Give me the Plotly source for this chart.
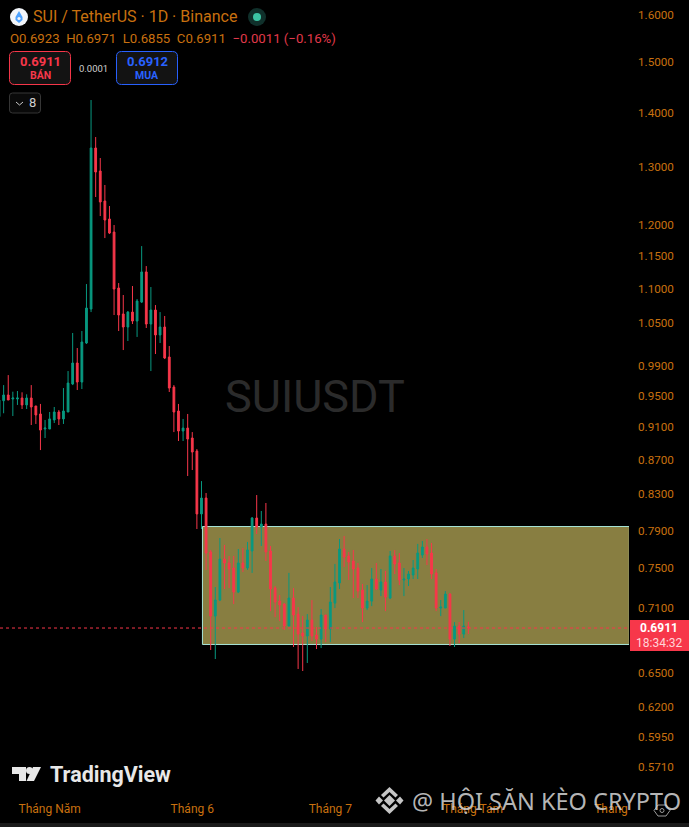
import numpy as np
import pandas as pd
import plotly.graph_objects as go

# SUI / TetherUS daily candles (20 Apr - 31 Jul)
dates = pd.date_range("2024-04-20", "2024-07-31", freq="D")
open_ = [
    .9232, .9436, .9510, .9458, .9458, .9471, .9381, .9471, .9368, .9266,
    .9077, .9077, .9190, .9291, .9203, .9291, .9654, .9936, .9680, 1.0212,
    1.0698, 1.3339, 1.2925, 1.2405, 1.2103, 1.1888, 1.1011, 1.0626, 1.0438, 1.0654,
    1.0524, 1.0801, 1.1256, 1.0481, 1.0684, 1.0325, 1.0438, 1.0018, .9614, .9304,
    .9052, .9089, .8966, .8807, .8080, .8258, .7670, .7025, .7181, .7596,
    .7555, .7503, .7260, .7555, .7503, .7680, .8035, .7937, .7969, .7680,
    .7300, .7171, .7142, .6930, .7201, .7044, .6864, .6836, .6987, .6845,
    .6807, .7035, .6901, .7151, .7351, .7701, .7628, .7576, .7503, .7280,
    .7103, .7171, .7391, .7280, .7361, .7201, .7628, .7555, .7381, .7391,
    .7432, .7493, .7638, .7722, .7659, .7453, .7103, .7103, .7240, .6807,
    .6930, .6854, .6923,
]
high = [
    .9553, .9640, .9773, .9553, .9562, .9545, .9519, .9640, .9368, .9394,
    .9190, .9291, .9355, .9316, .9601, .9827, 1.0353, 1.0142, 1.0381, 1.1071,
    1.4245, 1.3541, 1.3157, 1.2680, 1.2320, 1.2003, 1.1086, 1.0906, 1.0669, 1.1041,
    1.0846, 1.1662, 1.1347, 1.1026, 1.0757, 1.0654, 1.0597, 1.0170, .9640, .9394,
    .9203, .9266, .9039, .8831, .8452, .8315, .7691, .7310, .7818, .7744,
    .7628, .7628, .7701, .7712, .7776, .8046, .8292, .8113, .8202, .7733,
    .7320, .7230, .7151, .7453, .7300, .7112, .7025, .7044, .7181, .6920,
    .7093, .7035, .7310, .7545, .7807, .7839, .7670, .7691, .7555, .7341,
    .7330, .7503, .7555, .7493, .7473, .7680, .7691, .7659, .7503, .7473,
    .7586, .7755, .7786, .7807, .7765, .7493, .7181, .7270, .7250, .6968,
    .6968, .7083, .6971,
]
low = [
    .9219, .9275, .9445, .9240, .9381, .9329, .9329, .9127, .9140, .8819,
    .8966, .9077, .9152, .9127, .9140, .9291, .9640, .9575, .9588, 1.0198,
    1.0654, 1.2473, 1.2152, 1.1791, 1.1856, 1.0611, 1.0381, 1.0114, 1.0240, 1.0481,
    1.0297, 1.0787, 1.0424, .9827, 1.0059, 1.0212, .9990, .9549, .9039, .8929,
    .8929, .8511, .8581, .7915, .7915, .7483, .6706, .6624, .7171, .7290,
    .7300, .7142, .7250, .7463, .7483, .7453, .7861, .7733, .7576, .7073,
    .7015, .6977, .6892, .6930, .6734, .6534, .6516, .6588, .6789, .6715,
    .6724, .6779, .6779, .7103, .7290, .7514, .7381, .7201, .7201, .6968,
    .7083, .7122, .7280, .7220, .7073, .7191, .7442, .7330, .7220, .7320,
    .7391, .7391, .7607, .7534, .7391, .7073, .7025, .7103, .6743, .6734,
    .6770, .6817, .6855,
]
close = [
    .9445, .9510, .9445, .9471, .9471, .9381, .9471, .9355, .9253, .9064,
    .9089, .9203, .9291, .9203, .9304, .9667, .9936, .9680, 1.0226, 1.0713,
    1.3339, 1.2907, 1.2388, 1.2086, 1.1872, 1.0996, 1.0611, 1.0438, 1.0654, 1.0524,
    1.0816, 1.1256, 1.0481, 1.0684, 1.0325, 1.0438, 1.0004, .9601, .9291, .9052,
    .9089, .8953, .8795, .8080, .8258, .7659, .7025, .7181, .7596, .7555,
    .7493, .7260, .7555, .7503, .7691, .8035, .7937, .7969, .7670, .7290,
    .7161, .7132, .6930, .7201, .7035, .6854, .6836, .6987, .6836, .6807,
    .7035, .6901, .7161, .7361, .7701, .7617, .7565, .7493, .7270, .7103,
    .7171, .7391, .7290, .7361, .7210, .7628, .7545, .7381, .7391, .7442,
    .7503, .7659, .7722, .7649, .7442, .7103, .7112, .7240, .6807, .6930,
    .6854, .6930, .6911,
]

price_ticks = [1.6, 1.5, 1.4, 1.3, 1.2, 1.15, 1.1, 1.05, .99, .95, .91, .87, .83,
               .79, .75, .71, .65, .62, .595, .571]
month_ticks = ["2024-05-01", "2024-06-01", "2024-07-01", "2024-08-01", "2024-08-31"]
month_labels = ["Tháng Năm", "Tháng 6", "Tháng 7", "Tháng Tám", "Tháng"]

box_start = "2024-06-03 05:00"
box_end = "2024-09-04"
box_top = 0.7942
box_bottom = 0.6757
last_price = 0.6911

W, H = 689, 827
PLOT_W, PLOT_H = 629, 797
ORANGE = "#c8700f"
RED = "#f7374a"
GREEN = "#089981"
BLUE = "#2962ff"


def fx(x):
    return x / PLOT_W


def fy(y):
    return 1 - y / PLOT_H


def pth(points, close_it=True):
    s = "M " + " L ".join(f"{fx(x):.5f},{fy(y):.5f}" for x, y in points)
    return s + (" Z" if close_it else "")


def rbox(x0, y0, x1, y1, r):
    c = lambda x, y: f"{fx(x):.5f},{fy(y):.5f}"
    return (f"M {c(x0+r, y0)} L {c(x1-r, y0)} Q {c(x1, y0)} {c(x1, y0+r)} "
            f"L {c(x1, y1-r)} Q {c(x1, y1)} {c(x1-r, y1)} L {c(x0+r, y1)} "
            f"Q {c(x0, y1)} {c(x0, y1-r)} L {c(x0, y0+r)} Q {c(x0, y0)} {c(x0+r, y0)} Z")


def circle(cx, cy, r, **kw):
    return dict(type="circle", xref="paper", yref="paper", x0=fx(cx-r), x1=fx(cx+r),
                y0=fy(cy+r), y1=fy(cy-r), **kw)


def path(d, fill=None, line=None, width=1, layer="above"):
    return dict(type="path", xref="paper", yref="paper", path=d, layer=layer,
                fillcolor=fill or "rgba(0,0,0,0)",
                line=dict(color=line or "rgba(0,0,0,0)", width=width if line else 0))


def label(x, y, text, size=12, color="#ccc", anchor="center", family="Roboto"):
    return dict(xref="paper", yref="paper", x=fx(x), y=fy(y), text=text, showarrow=False,
                xanchor=anchor, yanchor="middle", align="center",
                font=dict(family=family, size=size, color=color))


fig = go.Figure()
fig.add_trace(go.Candlestick(
    x=dates, open=open_, high=high, low=low, close=close,
    increasing=dict(line=dict(color=GREEN, width=1), fillcolor=GREEN),
    decreasing=dict(line=dict(color=RED, width=1), fillcolor=RED),
    whiskerwidth=0,
))

shapes = [
    dict(type="rect", xref="x", yref="y", x0=box_start, x1=box_end, y0=box_bottom, y1=box_top,
         fillcolor="#887e41", line=dict(color="#a8e6d8", width=1), layer="below"),
    dict(type="line", xref="paper", yref="y", x0=0, x1=1, y0=last_price, y1=last_price,
         line=dict(color=RED, width=1, dash="dot"), layer="above"),
    # price tag
    dict(type="rect", xref="paper", yref="paper", x0=fx(630), x1=fx(689), y0=fy(651), y1=fy(620),
         fillcolor=RED, line=dict(width=0)),
    # header logo and status dot
    circle(19, 17, 9, fillcolor="#f2f5fa", line=dict(width=0)),
    path(pth([(19, 11), (22.5, 17), (22.5, 20), (19, 23), (15.5, 20), (15.5, 17)]), fill="#4da2ff"),
    circle(19, 18.5, 1.6, fillcolor="#f2f5fa", line=dict(width=0)),
    circle(257, 17, 9, fillcolor="#10302b", line=dict(width=0)),
    circle(257, 17, 4, fillcolor="#3bc4a4", line=dict(width=0)),
    # sell / buy buttons and the collapse box
    path(rbox(9.5, 51.5, 70.5, 84.5, 5), fill="#131313", line=RED),
    path(rbox(116.5, 51.5, 177.5, 84.5, 5), fill="#131313", line=BLUE),
    path(rbox(9.5, 93, 40.5, 113, 3), fill="#0a0a0a", line="#363636"),
    path(pth([(16, 102), (19.5, 105), (23, 102)], close_it=False), line="#cccccc", width=1),
    # TradingView mark
    path(pth([(12, 767), (26, 767), (26, 781), (19, 781), (19, 774), (12, 774)]), fill="#e8e8e8"),
    circle(29.5, 770.5, 3.5, fillcolor="#e8e8e8", line=dict(width=0)),
    path(pth([(33, 767), (41, 767), (34, 781), (26.5, 781)]), fill="#e8e8e8"),
    # settings hexagon
    path(pth([(658, 805), (666, 805), (670, 810.5), (666, 816), (658, 816), (654, 810.5)]),
         line="#9a9a9a", width=1),
    circle(662, 810.5, 2, line=dict(color="#9a9a9a", width=1)),
    # Binance mark of the overlaid caption
    path(pth([(389.5, 795), (395, 800.5), (389.5, 806), (384, 800.5)]), fill="#c6c6c6"),
    path(pth([(379, 796.5), (383, 800.5), (379, 804.5), (375.5, 800.5)]), fill="#c6c6c6"),
    path(pth([(400, 796.5), (403.5, 800.5), (400, 804.5), (396, 800.5)]), fill="#c6c6c6"),
    path(pth([(389.5, 787), (398, 795), (395.5, 797.5), (389.5, 792), (383.5, 797.5), (381, 795)]),
         fill="#c6c6c6"),
    path(pth([(389.5, 814), (398, 806), (395.5, 803.5), (389.5, 809), (383.5, 803.5), (381, 806)]),
         fill="#c6c6c6"),
    # strip at the bottom of the window
    dict(type="rect", xref="paper", yref="paper", x0=0, x1=W / PLOT_W, y0=fy(827), y1=fy(823),
         fillcolor="#1a1a1a", line=dict(width=0)),
]

ohlc = (f"<span style='color:{ORANGE}'>O0.6923  H0.6971  L0.6855  C0.6911</span>"
        f"<span style='color:#e0394a'>  −0.0011 (−0.16%)</span>")
annotations = [
    label(315, 397, "SUIUSDT", size=45, color="#2b2b2b"),
    label(31, 16, "SUI / TetherUS · 1D · Binance", size=16, color=ORANGE, anchor="left"),
    label(8, 38, ohlc.replace("  ", "&nbsp;&nbsp;"), size=13.2, anchor="left"),
    label(40, 61, "<b>0.6911</b>", size=13, color=RED),
    label(40, 75, "<b>BÁN</b>", size=10.5, color=RED),
    label(93, 68, "0.0001", size=9.5, color="#cfcfcf"),
    label(147, 61, "<b>0.6912</b>", size=13, color=BLUE),
    label(147, 75, "<b>MUA</b>", size=10.5, color=BLUE),
    label(32, 103, "8", size=13, color="#d0d0d0"),
    label(659, 628, "<b>0.6911</b>", size=12, color="#ffffff"),
    label(659, 643, "18:34:32", size=12, color="#ffd5d9"),
    label(48, 774, "<b>TradingView</b>", size=21.5, color="#e8e8e8", anchor="left"),
    label(410, 801, "@ HỘI SĂN KÈO CRYPTO", size=23.5, color="rgba(215,215,215,0.85)",
          anchor="left", family="Noto Sans"),
]

fig.update_layout(
    width=W, height=H,
    margin=dict(l=0, r=W - PLOT_W, t=0, b=H - PLOT_H, pad=0),
    paper_bgcolor="#000000", plot_bgcolor="#000000",
    showlegend=False,
    boxgap=0.45,
    font=dict(family="Roboto", size=12, color=ORANGE),
    shapes=shapes, annotations=annotations,
    xaxis=dict(
        type="date",
        range=["2024-04-20 05:00", "2024-09-03 22:00"],
        rangeslider=dict(visible=False),
        tickmode="array", tickvals=month_ticks, ticktext=month_labels,
        ticks="", showgrid=False, zeroline=False, showline=False,
        ticklabelstandoff=3,
        tickfont=dict(family="Roboto", size=12, color=ORANGE),
    ),
    yaxis=dict(
        type="log", side="right",
        range=[np.log10(0.5483), np.log10(1.6337)],
        tickmode="array", tickvals=price_ticks,
        ticktext=[f"{p:.4f}" for p in price_ticks],
        ticks="", showgrid=False, zeroline=False, showline=False,
        ticklabelstandoff=8,
        tickfont=dict(family="Roboto", size=11.7, color=ORANGE),
    ),
)

fig.write_html("out.html", config=dict(displayModeBar=False),
               post_script="document.body.style.margin='0';document.body.style.background='#000';")
